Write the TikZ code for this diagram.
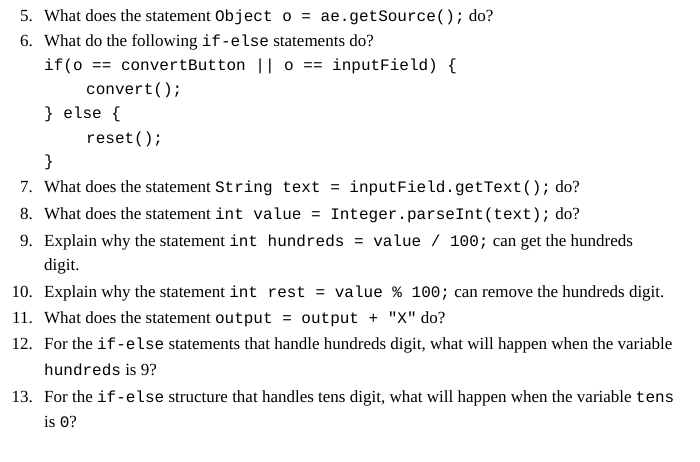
\documentclass[tikz,border=0pt]{standalone}
\usepackage{fontspec}
\setmainfont{Liberation Serif}
\setmonofont{Liberation Mono}
\begin{document}
\begin{tikzpicture}[x=1pt,y=-1pt,
  txt/.style={anchor=base west,inner sep=0pt,font=\fontsize{17}{20}\selectfont},
  num/.style={anchor=base east,inner sep=0pt,font=\fontsize{17}{20}\selectfont}]
\useasboundingbox (0,0) rectangle (700,462);
\newcommand{\cc}[1]{{\ttfamily\fontsize{16}{20}\selectfont #1}}
\node[num] (n5) at (33,22) {5.};
\node[txt] (t5) at (44,22) {What does the statement \cc{Object o = ae.getSource();} do?};
\node[num] (n6) at (33,47) {6.};
\node[txt] (t6) at (44,47) {What do the following \cc{if-else} statements do?};
\node[txt] (c1) at (44,71) {\cc{if(o == convertButton || o == inputField) \{}};
\node[txt] (c2) at (86,95) {\cc{convert();}};
\node[txt] (c3) at (44,119) {\cc{\} else \{}};
\node[txt] (c4) at (86,144) {\cc{reset();}};
\node[txt] (c5) at (44,167) {\cc{\}}};
\node[num] (n7) at (33,193) {7.};
\node[txt] (t7) at (44,193) {What does the statement \cc{String text = inputField.getText();} do?};
\node[num] (n8) at (33,219) {8.};
\node[txt] (t8) at (44,219) {What does the statement \cc{int value = Integer.parseInt(text);} do?};
\node[num] (n9) at (33,246) {9.};
\node[txt] (t9) at (44,246) {Explain why the statement \cc{int hundreds = value / 100;} can get the hundreds};
\node[txt] (t9b) at (44,270) {digit.};
\node[num] (n10) at (33,297) {10.};
\node[txt] (t10) at (44,297) {Explain why the statement \cc{int rest = value \% 100;} can remove the hundreds digit.};
\node[num] (n11) at (33,323) {11.};
\node[txt] (t11) at (44,323) {What does the statement \cc{output = output + "X"} do?};
\node[num] (n12) at (33,349) {12.};
\node[txt] (t12) at (44,349) {For the \cc{if-else} statements that handle hundreds digit, what will happen when the variable};
\node[txt] (t12b) at (44,375) {\cc{hundreds} is 9?};
\node[num] (n13) at (33,402) {13.};
\node[txt] (t13) at (44,402) {For the \cc{if-else} structure that handles tens digit, what will happen when the variable \cc{tens}};
\node[txt] (t13b) at (44,427) {is \cc{0}?};
\end{tikzpicture}
\end{document}
